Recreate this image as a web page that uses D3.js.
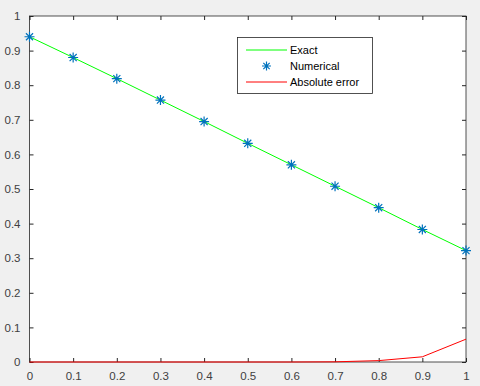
<!DOCTYPE html>
<html>
<head>
<meta charset="utf-8">
<script src="https://cdn.jsdelivr.net/npm/d3@7"></script>
<style>
  body { margin: 0; background: #f0f0f0; }
  svg { display: block; }
  .tick text { font-family: "Liberation Sans", Arial, sans-serif; font-size: 11.5px; fill: #404040; }
</style>
</head>
<body>
<svg id="chart" width="480" height="386"></svg>
<script>
var xValues = [0, 0.1, 0.2, 0.3, 0.4, 0.5, 0.6, 0.7, 0.8, 0.9, 1];
var exact = [0.940, 0.880, 0.819, 0.757, 0.695, 0.632, 0.570, 0.508, 0.446, 0.383, 0.322];
var numerical = [0.940, 0.880, 0.819, 0.757, 0.695, 0.632, 0.570, 0.508, 0.446, 0.383, 0.322];
var absError = [0, 0, 0, 0, 0, 0, 0, 0.0005, 0.004, 0.015, 0.066];
var xTicks = [0, 0.1, 0.2, 0.3, 0.4, 0.5, 0.6, 0.7, 0.8, 0.9, 1];
var yTicks = [0, 0.1, 0.2, 0.3, 0.4, 0.5, 0.6, 0.7, 0.8, 0.9, 1];
var legendNames = ["Exact", "Numerical", "Absolute error"];

var svg = d3.select("#chart");
var plotL = 29.5, plotR = 466, plotT = 16, plotB = 362;

var x = d3.scaleLinear().domain([0, 1]).range([plotL, plotR]);
var y = d3.scaleLinear().domain([0, 1]).range([plotB, plotT]);

// white plot box
svg.append("rect")
    .attr("x", plotL).attr("y", plotT)
    .attr("width", plotR - plotL).attr("height", plotB - plotT)
    .attr("fill", "#fff");

var fmt = d3.format("");
var axisColor = "#262626";

function styleAxis(g) {
    g.select(".domain").remove();
    g.selectAll(".tick line").attr("stroke", axisColor);
}

svg.append("g").attr("transform", "translate(0," + plotB + ")")
    .call(d3.axisBottom(x).tickValues(xTicks).tickFormat(fmt).tickSize(-4).tickPadding(10))
    .call(styleAxis);
svg.append("g").attr("transform", "translate(0," + plotT + ")")
    .call(d3.axisTop(x).tickValues(xTicks).tickFormat("").tickSize(-4))
    .call(styleAxis);
svg.append("g").attr("transform", "translate(" + plotL + ",0)")
    .call(d3.axisLeft(y).tickValues(yTicks).tickFormat(fmt).tickSize(-4).tickPadding(9))
    .call(styleAxis);
svg.append("g").attr("transform", "translate(" + plotR + ",0)")
    .call(d3.axisRight(y).tickValues(yTicks).tickFormat("").tickSize(-4))
    .call(styleAxis);

svg.selectAll(".tick text").attr("font-family", null).attr("font-size", null);

// box outline
svg.append("rect")
    .attr("x", plotL).attr("y", plotT)
    .attr("width", plotR - plotL).attr("height", plotB - plotT)
    .attr("fill", "none").attr("stroke", axisColor).attr("stroke-width", 0.8);

var line = d3.line().x((d, i) => x(xValues[i])).y(d => y(d));

svg.append("path").datum(exact)
    .attr("d", line).attr("fill", "none")
    .attr("stroke", "#00ff00").attr("stroke-width", 1);

svg.append("path").datum(absError)
    .attr("d", line).attr("fill", "none")
    .attr("stroke", "#ff0000").attr("stroke-width", 1);

var starColor = "#0072bd";
function star(g, cx, cy, r) {
    var d = "";
    for (var k = 0; k < 4; k++) {
        var a = k * Math.PI / 4;
        var dx = r * Math.cos(a), dy = r * Math.sin(a);
        d += "M" + (cx - dx) + "," + (cy - dy) + "L" + (cx + dx) + "," + (cy + dy);
    }
    g.append("path").attr("d", d).attr("stroke", starColor).attr("stroke-width", 1.2).attr("fill", "none");
}

var stars = svg.append("g");
numerical.forEach(function(v, i) { star(stars, x(xValues[i]), y(v), 5); });

// legend
var lg = svg.append("g");
lg.append("rect")
    .attr("x", 237.5).attr("y", 37.5).attr("width", 135).attr("height", 56)
    .attr("fill", "#fff").attr("stroke", axisColor).attr("stroke-width", 0.8);
var rowsY = [50, 66, 82];
var legendColors = ["#00ff00", null, "#ff0000"];
legendNames.forEach(function(name, i) {
    if (legendColors[i]) {
        lg.append("line").attr("x1", 246).attr("x2", 287)
            .attr("y1", rowsY[i]).attr("y2", rowsY[i])
            .attr("stroke", legendColors[i]).attr("stroke-width", 1);
    } else {
        star(lg, 266.5, rowsY[i], 4.5);
    }
    lg.append("text").attr("x", 290).attr("y", rowsY[i] + 4)
        .attr("font-family", "Liberation Sans, Arial, sans-serif")
        .attr("font-size", 11).attr("fill", "#000").text(name);
});
</script>
</body>
</html>
